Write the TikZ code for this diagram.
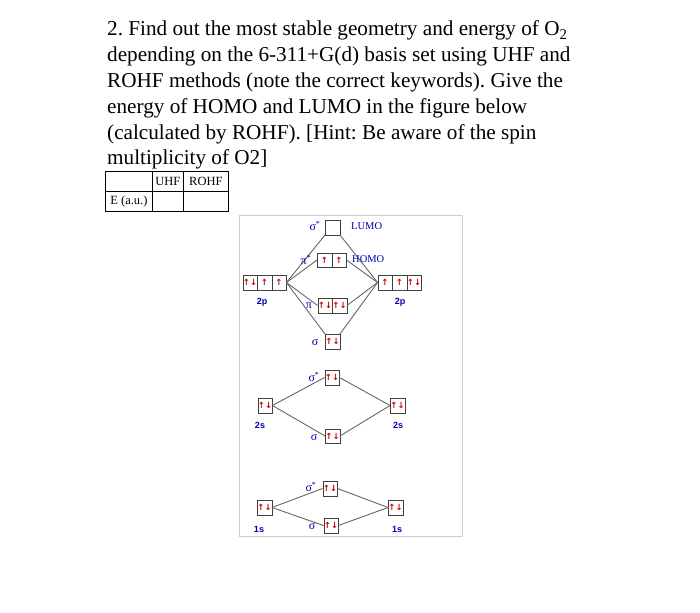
\documentclass[tikz,border=0pt]{standalone}
\usepackage{fontspec}
\setmainfont{Liberation Serif}
\newfontfamily\dv{DejaVu Sans}
\newfontfamily\ar{Liberation Sans}
\frenchspacing
\begin{document}
\begin{tikzpicture}[x=1pt,y=-1pt,
 para/.style={anchor=base west,inner sep=0,font=\fontsize{21.2}{22}\selectfont},
 cell/.style={draw,thick,minimum width=#1,minimum height=20,inner sep=0,anchor=north west,font=\fontsize{12.5}{13}\selectfont},
 orb/.style={draw=black!75,minimum size=14.5,inner sep=0,text=red!80!black,font=\dv\fontsize{8.5}{9}\selectfont\bfseries},
 lab/.style={text=blue!70!black,font=\ar\fontsize{9}{10}\selectfont\bfseries,inner sep=0},
 glab/.style={text=blue!70!black,font=\fontsize{12}{13}\selectfont,inner sep=0},
 ln/.style={draw=black!60,line width=0.9pt}]
\fill[white] (0,0) rectangle (700,612);
\node[para] (t1) at (107,36) {2. Find out the most stable geometry and energy of O\textsubscript{2}};
\node[para] (t2) at (107,62) {depending on the 6-311+G(d) basis set using UHF and};
\node[para] (t3) at (107,88) {ROHF methods (note the correct keywords). Give the};
\node[para] (t4) at (107,114) {energy of HOMO and LUMO in the figure below};
\node[para] (t5) at (107,139.5) {(calculated by ROHF). [Hint: Be aware of the spin};
\node[para] (t6) at (107,165) {multiplicity of O2]};
% table
\node[cell=47] (c11) at (105,171) {};
\node[cell=31] (c12) at (152,171) {UHF};
\node[cell=45] (c13) at (183,171) {ROHF};
\node[cell=47] (c21) at (105,191) {E (a.u.)};
\node[cell=31] (c22) at (152,191) {};
\node[cell=45] (c23) at (183,191) {};
% frame
\draw[black!20,line width=1pt] (239,215) rectangle (462,536);
% orbitals
\node[orb] (sps) at (332.5,227.5) {};
\node[orb] (pis1) at (324.5,260) {↑};
\node[orb] (pis2) at (339,260) {↑};
\node[orb] (L2a) at (250,282.5) {↑↓};
\node[orb] (L2b) at (264.5,282.5) {↑};
\node[orb] (L2c) at (279,282.5) {↑};
\node[orb] (R2a) at (385,282.5) {↑};
\node[orb] (R2b) at (399.5,282.5) {↑};
\node[orb] (R2c) at (414,282.5) {↑↓};
\node[orb] (pi1) at (325,305.5) {↑↓};
\node[orb] (pi2) at (339.5,305.5) {↑↓};
\node[orb] (sp) at (332.5,341.5) {↑↓};
\node[orb] (ss2) at (332,377.5) {↑↓};
\node[orb] (L2s) at (265,405.5) {↑↓};
\node[orb] (R2s) at (397.5,405.5) {↑↓};
\node[orb] (s2) at (332.5,436) {↑↓};
\node[orb] (ss1) at (330,488.5) {↑↓};
\node[orb] (L1s) at (264.5,507.5) {↑↓};
\node[orb] (R1s) at (395.5,507.5) {↑↓};
\node[orb] (s1) at (331,525.5) {↑↓};
% connectors
\draw[ln] (L2c.east) -- (sps.south west);
\draw[ln] (L2c.east) -- (pis1.west);
\draw[ln] (L2c.east) -- (pi1.west);
\draw[ln] (L2c.east) -- (sp.north west);
\draw[ln] (R2a.west) -- (sps.south east);
\draw[ln] (R2a.west) -- (pis2.east);
\draw[ln] (R2a.west) -- (pi2.east);
\draw[ln] (R2a.west) -- (sp.north east);
\draw[ln] (L2s.east) -- (ss2.west);
\draw[ln] (L2s.east) -- (s2.west);
\draw[ln] (R2s.west) -- (ss2.east);
\draw[ln] (R2s.west) -- (s2.east);
\draw[ln] (L1s.east) -- (ss1.west);
\draw[ln] (L1s.east) -- (s1.west);
\draw[ln] (R1s.west) -- (ss1.east);
\draw[ln] (R1s.west) -- (s1.east);
% labels
\node[glab] (g1) at (315,226) {σ\textsuperscript{*}};
\node[glab] (g2) at (306,260) {π\textsuperscript{*}};
\node[glab] (g3) at (309,306) {π};
\node[glab] (g4) at (315,342) {σ};
\node[glab] (g5) at (314,377) {σ\textsuperscript{*}};
\node[glab] (g6) at (314,437) {σ};
\node[glab] (g7) at (311,487) {σ\textsuperscript{*}};
\node[glab] (g8) at (312,526) {σ};
\node[glab,anchor=west,font=\fontsize{10.5}{11}\selectfont] (lumo) at (351,226) {LUMO};
\node[glab,anchor=west,font=\fontsize{10.5}{11}\selectfont] (homo) at (352,259) {HOMO};
\node[lab] (p2l) at (262,302) {2p};
\node[lab] (p2r) at (400,302) {2p};
\node[lab] (s2l) at (260,425) {2s};
\node[lab] (s2r) at (398,425) {2s};
\node[lab] (s1l) at (259,529) {1s};
\node[lab] (s1r) at (397,529) {1s};
\useasboundingbox (0,0) rectangle (700,612);
\end{tikzpicture}
\end{document}
